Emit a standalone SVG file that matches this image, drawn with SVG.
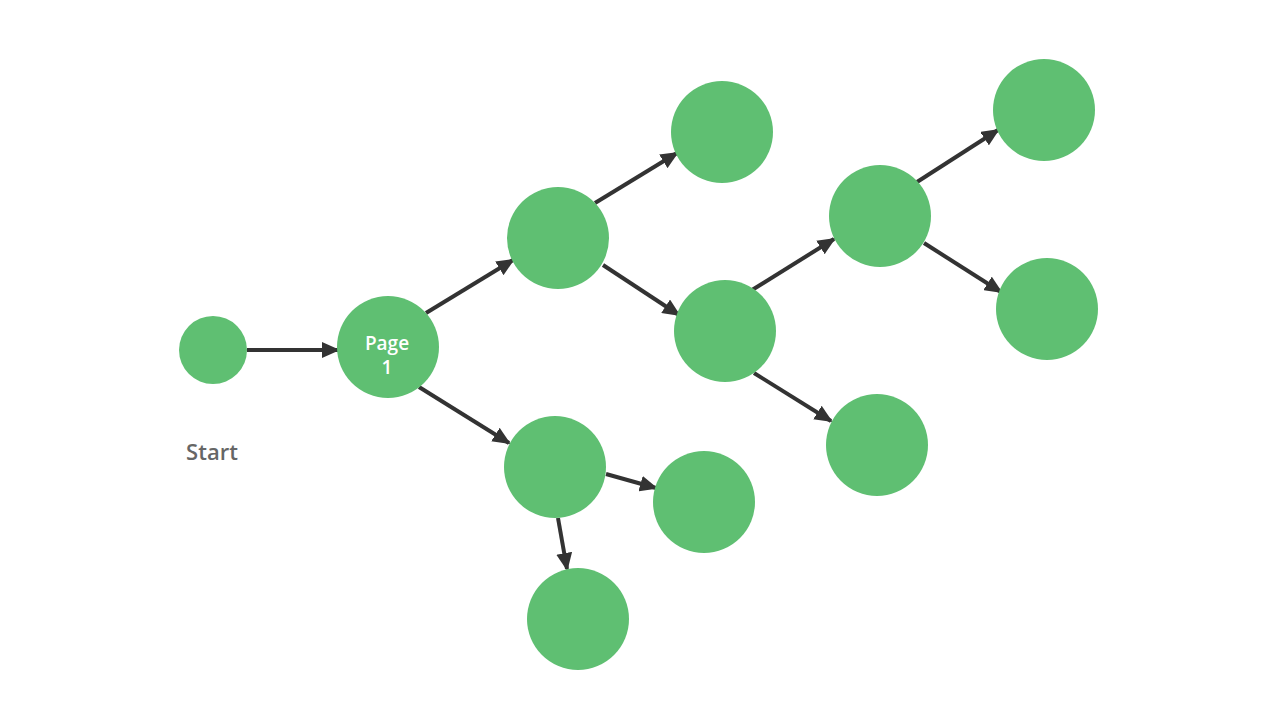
<svg xmlns="http://www.w3.org/2000/svg" width="1280" height="720" viewBox="0 0 1280 720">
<style>
.n{fill:#5fbf72}
.e{stroke:#333;stroke-width:4;fill:none;marker-end:url(#ah)}
.t{font-family:"Open Sans","Liberation Sans",sans-serif;font-weight:600}
</style>
<defs>
<marker id="ah" markerUnits="userSpaceOnUse" markerWidth="18" markerHeight="16" viewBox="0 0 18 16" refX="16" refY="8" orient="auto">
<path d="M0,0 L18,8 L0,16 Z" fill="#333"/>
</marker>
</defs>
<rect width="1280" height="720" fill="#fff"/>
<g id="connectors">
<line class="e" x1="247" y1="350" x2="338" y2="350"/>
<line class="e" x1="426" y1="313" x2="513" y2="260"/>
<line class="e" x1="595" y1="203" x2="677" y2="153"/>
<line class="e" x1="603" y1="265" x2="679" y2="315"/>
<line class="e" x1="752" y1="290" x2="834" y2="239"/>
<line class="e" x1="917" y1="182" x2="998" y2="130"/>
<line class="e" x1="924" y1="243" x2="1001" y2="292"/>
<line class="e" x1="754" y1="373" x2="831" y2="421"/>
<line class="e" x1="419" y1="387" x2="509" y2="443"/>
<line class="e" x1="606" y1="474" x2="656" y2="488"/>
<line class="e" x1="558" y1="518" x2="567" y2="569"/>
</g>
<g id="start"><circle class="n" cx="213" cy="350" r="34"/><text class="t" x="212" y="460" font-size="22" fill="#666" text-anchor="middle">Start</text></g>
<g id="page1"><circle class="n" cx="388" cy="347" r="51"/><text class="t" x="387" y="350" font-size="19" fill="#fff" text-anchor="middle">Page</text><text class="t" x="387" y="374" font-size="19" fill="#fff" text-anchor="middle">1</text></g>
<g id="a"><circle class="n" cx="558" cy="238" r="51"/></g>
<g id="b"><circle class="n" cx="722" cy="132" r="51"/></g>
<g id="c"><circle class="n" cx="725" cy="331" r="51"/></g>
<g id="d"><circle class="n" cx="880" cy="216" r="51"/></g>
<g id="e"><circle class="n" cx="1044" cy="110" r="51"/></g>
<g id="f"><circle class="n" cx="1047" cy="309" r="51"/></g>
<g id="g"><circle class="n" cx="877" cy="445" r="51"/></g>
<g id="h"><circle class="n" cx="555" cy="467" r="51"/></g>
<g id="i"><circle class="n" cx="704" cy="502" r="51"/></g>
<g id="j"><circle class="n" cx="578" cy="619" r="51"/></g>
</svg>
